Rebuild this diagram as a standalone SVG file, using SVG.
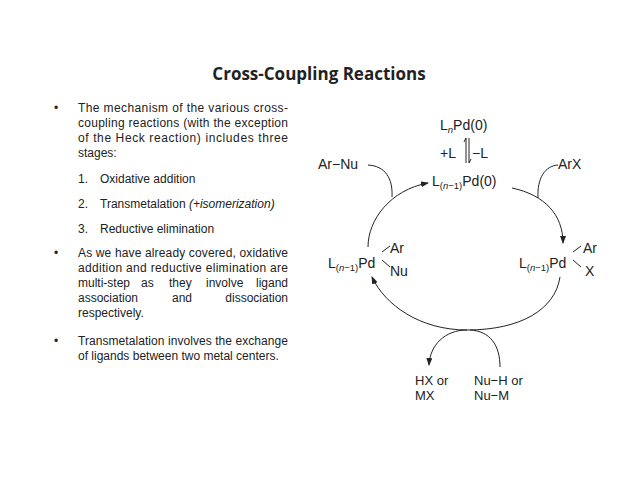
<svg xmlns="http://www.w3.org/2000/svg" width="638" height="493" viewBox="0 0 638 493">
<style>
.t{font-family:"Liberation Sans",Arial,sans-serif;font-size:12px;fill:#222}
.e{text-anchor:end}
.c{font-family:"Liberation Sans",Arial,sans-serif;font-size:14px;fill:#222}
.b{font-size:13px}
.s{font-size:9.5px}
.ln{fill:none;stroke:#222;stroke-width:1}
</style>
<defs><marker id="ah" markerWidth="8" markerHeight="6" refX="7" refY="3" orient="auto" markerUnits="userSpaceOnUse"><path d="M0,0L8,3L0,6z" fill="#222"/></marker></defs>
<rect width="638" height="493" fill="#fff"/>
<text x="319" y="80" text-anchor="middle" font-family="'Open Sans','Liberation Sans',sans-serif" font-weight="bold" font-size="17" fill="#222">Cross-Coupling Reactions</text>
<g id="text">
<text class="t" x="54" y="112">•</text>
<text class="t" x="78" y="112" textLength="210" lengthAdjust="spacing">The mechanism of the various cross-</text>
<text class="t" x="78" y="127" textLength="210" lengthAdjust="spacing">coupling reactions (with the exception</text>
<text class="t" x="78" y="142" textLength="210" lengthAdjust="spacing">of the Heck reaction) includes three</text>
<text class="t" x="78" y="157">stages:</text>
<text class="t" x="78" y="183">1.</text><text class="t" x="100" y="183">Oxidative addition</text>
<text class="t" x="78" y="208">2.</text><text class="t" x="100" y="208">Transmetalation <tspan font-style="italic">(+isomerization)</tspan></text>
<text class="t" x="78" y="233">3.</text><text class="t" x="100" y="233">Reductive elimination</text>
<text class="t" x="54" y="257">•</text>
<text class="t" x="78" y="257" textLength="210" lengthAdjust="spacing">As we have already covered, oxidative</text>
<text class="t" x="78" y="272" textLength="210" lengthAdjust="spacing">addition and reductive elimination are</text>
<text class="t" x="78" y="287">multi-step</text><text class="t" x="141" y="287">as</text><text class="t" x="169" y="287">they</text><text class="t" x="206" y="287">involve</text><text class="t e" x="288" y="287">ligand</text>
<text class="t" x="78" y="302">association</text><text class="t" x="172" y="302">and</text><text class="t e" x="288" y="302">dissociation</text>
<text class="t" x="78" y="317">respectively.</text>
<text class="t" x="54" y="345">•</text>
<text class="t" x="78" y="345" textLength="210" lengthAdjust="spacing">Transmetalation involves the exchange</text>
<text class="t" x="78" y="360">of ligands between two metal centers.</text>
</g>
<g id="LnPd"><text class="c" x="440" y="130">L<tspan font-style="italic" class="s" dy="3">n</tspan><tspan dy="-3">Pd(0)</tspan></text></g>
<g id="Ln1Pd0"><text class="c" x="432" y="186">L<tspan class="s" dy="3">(<tspan font-style="italic">n</tspan>−1)</tspan><tspan dy="-3">Pd(0)</tspan></text></g>
<g id="equil"><text class="c" x="440" y="158">+L</text><text class="c" x="472" y="158">−L</text></g>
<g id="ArNu"><text class="c" x="318" y="169">Ar−Nu</text></g>
<g id="ArX"><text class="c" x="558" y="169">ArX</text></g>
<g id="leftPd"><text class="c" x="328" y="268">L<tspan class="s" dy="3">(<tspan font-style="italic">n</tspan>−1)</tspan><tspan dy="-3">Pd</tspan></text>
<text class="c" x="390" y="253">Ar</text><text class="c" x="390" y="276">Nu</text></g>
<g id="rightPd"><text class="c" x="519" y="268">L<tspan class="s" dy="3">(<tspan font-style="italic">n</tspan>−1)</tspan><tspan dy="-3">Pd</tspan></text>
<text class="c" x="583" y="253">Ar</text><text class="c" x="585" y="276">X</text></g>
<g id="HX"><text class="c b" x="415" y="385">HX or</text><text class="c b" x="415" y="400">MX</text></g>
<g id="NuH"><text class="c b" x="474" y="385">Nu−H or</text><text class="c b" x="474" y="400">Nu−M</text></g>
<g id="connectors">
<path class="ln" d="M382,252L390,246M382,260L390,267M573,252L581,246M573,260L581,267"/>
<path class="ln" d="M466,138V163M466,138l-2,4M469,138V163M469,163l2,-4"/>
<path class="ln" marker-end="url(#ah)" d="M368,247C368,220 390,190 428,183"/>
<path class="ln" marker-end="url(#ah)" d="M512,188C545,195 563,215 563,243"/>
<path class="ln" marker-end="url(#ah)" d="M560,277C555,310 520,330 467,330C420,330 385,305 372,277"/>
<path class="ln" d="M368,165C385,166 393,178 392,197"/>
<path class="ln" d="M558,165C545,166 537,178 538,198"/>
<path class="ln" marker-end="url(#ah)" d="M467,330C445,330 430,345 429,365"/>
<path class="ln" d="M500,367C500,345 490,331 470,330"/>
</g>
</svg>
